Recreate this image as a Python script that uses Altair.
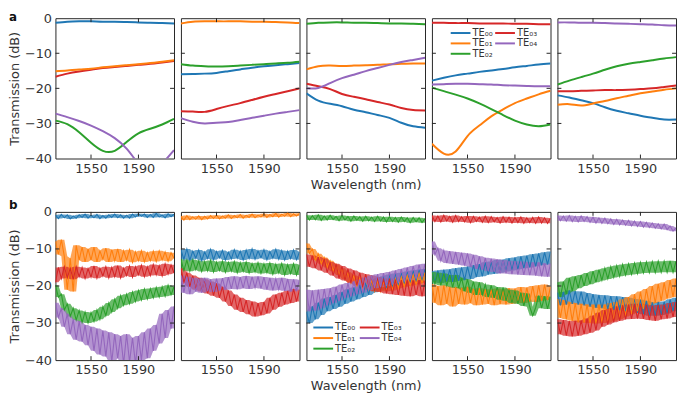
import altair as alt
import pandas as pd

# ---------------- categories / styling lists ----------------
MODES = ["TE00", "TE01", "TE02", "TE03", "TE04"]
MODE_LABELS = ["TE₀₀", "TE₀₁", "TE₀₂", "TE₀₃", "TE₀₄"]
COLORS = ["#1f77b4", "#ff7f0e", "#2ca02c", "#d62728", "#9467bd"]
X_TICKS = [1550, 1590]
Y_TICKS = [0, -10, -20, -30, -40]

# wavelength samples (nm)
WL_SIM = [1520, 1530, 1540, 1550, 1560, 1570, 1580, 1590, 1600, 1610, 1620]
WL_MEAS = [1520 + 2.5 * i for i in range(41)]

# ---------------- (a) simulated transmission, dB ----------------
A1_TE00 = [-1.3, -1.0, -0.9, -0.9, -1.0, -1.0, -1.1, -1.2, -1.3, -1.4, -1.5]
A1_TE01 = [-15.1, -14.9, -14.6, -14.4, -14.0, -13.7, -13.4, -13.1, -12.8, -12.4, -12.0]
A1_TE02 = [-29.2, -30.2, -32.5, -35.5, -37.8, -37.8, -35.3, -32.8, -31.5, -30.3, -28.7]
A1_TE03 = [-16.7, -15.8, -15.2, -14.7, -14.2, -13.9, -13.6, -13.3, -13.0, -12.6, -12.2]
A1_TE04 = [-27.2, -28.2, -29.3, -30.6, -32.2, -34.2, -37.2, -41.5, -44.0, -41.5, -37.6]

A2_TE00 = [-16.0, -15.9, -15.8, -15.6, -15.1, -14.6, -14.1, -13.7, -13.4, -13.1, -12.8]
A2_TE01 = [-1.5, -1.0, -0.9, -0.9, -0.9, -0.9, -1.0, -1.0, -1.1, -1.2, -1.4]
A2_TE02 = [-13.1, -13.5, -13.7, -13.8, -13.7, -13.5, -13.3, -13.1, -12.9, -12.7, -12.4]
A2_TE03 = [-26.5, -26.6, -26.7, -25.9, -25.0, -24.2, -23.3, -22.4, -21.6, -20.8, -20.0]
A2_TE04 = [-28.5, -29.5, -30.0, -29.8, -29.6, -29.0, -28.4, -27.8, -27.2, -26.7, -26.2]

A3_TE00 = [-21.4, -23.5, -24.4, -25.1, -26.1, -26.8, -27.6, -28.4, -29.8, -30.8, -31.2]
A3_TE01 = [-14.6, -13.7, -13.5, -13.6, -13.5, -13.4, -13.3, -13.1, -13.0, -12.9, -12.9]
A3_TE02 = [-1.6, -1.3, -1.2, -1.2, -1.3, -1.3, -1.4, -1.5, -1.5, -1.6, -1.7]
A3_TE03 = [-18.7, -19.4, -20.2, -21.6, -22.4, -23.1, -23.9, -24.6, -25.6, -26.2, -26.3]
A3_TE04 = [-20.0, -19.9, -18.5, -17.1, -16.1, -15.1, -14.2, -13.3, -12.5, -11.9, -11.3]

A4_TE00 = [-17.8, -17.0, -16.3, -15.8, -15.3, -14.9, -14.5, -14.0, -13.6, -13.2, -12.9]
A4_TE01 = [-35.8, -38.6, -38.0, -33.6, -30.6, -28.0, -26.0, -24.2, -22.9, -21.7, -20.7]
A4_TE02 = [-19.8, -20.8, -21.8, -22.9, -24.3, -25.9, -27.6, -29.2, -30.3, -30.8, -30.3]
A4_TE03 = [-1.3, -1.3, -1.4, -1.4, -1.5, -1.5, -1.5, -1.6, -1.6, -1.7, -1.7]
A4_TE04 = [-18.9, -18.8, -18.7, -18.7, -18.8, -18.9, -19.1, -19.2, -19.3, -19.4, -19.4]

A5_TE00 = [-22.0, -22.6, -23.4, -24.2, -25.4, -26.4, -27.1, -27.8, -28.4, -28.9, -28.9]
A5_TE01 = [-24.7, -24.5, -24.9, -24.3, -23.6, -22.8, -22.1, -21.4, -20.9, -20.4, -20.0]
A5_TE02 = [-18.9, -17.8, -16.8, -15.8, -14.7, -13.7, -13.0, -12.5, -12.0, -11.5, -11.1]
A5_TE03 = [-20.8, -20.8, -20.7, -20.6, -20.5, -20.5, -20.4, -20.2, -20.0, -19.6, -19.2]
A5_TE04 = [-1.2, -1.2, -1.3, -1.3, -1.4, -1.5, -1.6, -1.7, -1.8, -2.0, -2.1]

# ---------------- (b) measured transmission, dB ----------------
B1_TE00 = [-0.9, -1.8, -0.7, -1.6, -0.8, -1.9, -1.1, -1.7, -0.8, -1.5, -0.6, -1.7, -0.9, -1.6, -0.7, -1.8, -1.0, -1.7, -0.8, -1.5, -0.6, -1.6, -0.8, -1.7, -0.9, -1.7, -0.6, -1.4, -0.5, -1.2, -0.6, -1.5, -0.7, -1.5, -0.4, -1.4, -0.8, -1.6, -0.5, -1.3, -0.6]
B1_TE01 = [-8.0, -11.5, -7.5, -12.0, -21.0, -12.5, -21.5, -9.0, -13.0, -9.5, -13.5, -10.0, -13.0, -9.5, -13.5, -10.5, -12.8, -9.8, -13.5, -10.2, -13.2, -10.0, -13.5, -10.5, -13.0, -10.2, -13.6, -10.8, -13.2, -10.5, -13.5, -11.0, -13.2, -10.6, -13.4, -10.5, -13.0, -10.8, -13.3, -11.0, -12.5]
B1_TE02 = [-19.8, -23.0, -22.2, -26.5, -24.8, -28.2, -26.0, -29.2, -26.6, -29.8, -27.0, -30.0, -27.2, -29.6, -26.5, -29.0, -25.6, -28.0, -24.6, -27.0, -23.6, -26.0, -22.6, -25.2, -22.2, -24.8, -21.6, -24.2, -21.2, -23.8, -20.8, -23.5, -20.7, -23.2, -20.4, -23.0, -20.2, -22.8, -19.8, -22.4, -20.2]
B1_TE03 = [-19.0, -15.0, -18.0, -14.8, -17.8, -15.2, -18.2, -14.8, -17.5, -15.0, -18.0, -15.3, -17.6, -14.6, -17.9, -15.2, -17.3, -14.8, -17.8, -15.0, -17.5, -14.5, -17.8, -15.2, -17.2, -14.6, -17.6, -14.8, -17.0, -14.4, -17.5, -14.8, -17.2, -14.2, -17.0, -14.5, -17.3, -14.0, -16.8, -14.3, -16.5]
B1_TE04 = [-24.5, -28.5, -26.0, -31.0, -27.5, -33.0, -29.0, -34.5, -29.5, -35.0, -30.5, -36.0, -31.0, -37.5, -31.5, -38.5, -32.0, -39.0, -32.5, -40.5, -33.0, -39.5, -33.5, -41.0, -33.0, -40.5, -34.0, -41.0, -33.5, -40.0, -32.5, -39.5, -31.5, -37.5, -30.5, -35.5, -27.5, -34.0, -26.5, -31.5, -25.5]

B2_TE00 = [-10.2, -12.8, -10.0, -13.0, -10.6, -12.5, -10.3, -13.1, -10.8, -12.6, -10.1, -12.9, -10.7, -12.4, -10.4, -13.0, -10.9, -12.7, -10.2, -12.5, -10.6, -13.0, -10.3, -12.6, -10.0, -12.8, -10.5, -12.4, -10.2, -12.9, -10.7, -12.5, -10.1, -12.8, -10.4, -13.0, -10.6, -12.6, -10.3, -12.9, -10.8]
B2_TE01 = [-1.2, -2.2, -1.0, -2.1, -1.3, -2.0, -1.1, -2.1, -1.2, -1.9, -1.0, -1.8, -0.9, -1.9, -1.1, -1.7, -0.8, -1.8, -1.0, -1.6, -0.7, -1.7, -0.9, -1.5, -0.6, -1.6, -0.8, -1.4, -0.5, -1.5, -0.7, -1.3, -0.4, -1.4, -0.6, -1.2, -0.3, -1.3, -0.5, -1.1, -0.4]
B2_TE02 = [-12.8, -15.8, -13.0, -16.0, -12.9, -15.6, -13.2, -16.1, -13.4, -15.9, -13.1, -16.2, -13.5, -15.8, -13.3, -16.3, -13.6, -16.0, -13.4, -16.4, -13.7, -16.1, -13.5, -16.5, -13.9, -16.2, -13.7, -16.6, -14.0, -16.4, -13.8, -16.8, -14.1, -16.5, -13.9, -17.0, -14.2, -16.7, -14.0, -17.0, -14.3]
B2_TE03 = [-15.2, -19.0, -16.4, -20.2, -17.2, -21.0, -17.8, -21.5, -18.2, -22.0, -18.8, -22.6, -19.3, -23.2, -20.2, -24.2, -21.2, -25.4, -22.3, -26.4, -23.2, -27.0, -23.8, -27.6, -24.2, -28.2, -24.6, -27.9, -24.3, -27.4, -23.2, -26.4, -22.3, -25.6, -21.8, -25.0, -21.3, -24.6, -20.8, -24.2, -21.0]
B2_TE04 = [-17.2, -21.8, -17.5, -22.2, -17.8, -21.5, -18.0, -21.8, -17.8, -21.4, -18.2, -21.6, -18.0, -21.2, -17.9, -21.0, -17.6, -20.8, -17.4, -20.9, -17.6, -20.6, -17.3, -20.8, -17.5, -20.5, -17.4, -20.7, -17.6, -21.0, -17.8, -21.2, -18.0, -21.0, -17.8, -21.3, -18.1, -21.5, -18.2, -21.2, -18.4]

B3_TE00 = [-27.0, -30.0, -25.5, -29.0, -24.5, -27.8, -23.4, -26.8, -23.0, -26.2, -22.4, -25.6, -21.6, -24.8, -20.9, -24.2, -20.4, -23.6, -19.7, -23.0, -19.1, -22.4, -18.3, -21.7, -17.9, -21.2, -17.4, -20.6, -16.9, -20.1, -16.6, -19.8, -16.4, -19.4, -16.1, -19.1, -15.8, -18.9, -15.6, -18.7, -15.4]
B3_TE01 = [-8.5, -11.2, -10.0, -13.0, -11.3, -14.0, -12.3, -15.0, -13.2, -16.0, -14.2, -17.0, -15.2, -18.2, -16.3, -19.2, -17.2, -20.0, -17.8, -20.6, -18.2, -21.0, -18.5, -21.4, -18.6, -21.5, -18.7, -21.4, -18.5, -21.2, -18.1, -20.6, -17.6, -20.2, -17.2, -19.9, -17.0, -19.6, -16.6, -19.2, -16.4]
B3_TE02 = [-0.9, -2.2, -1.0, -2.1, -0.8, -2.3, -1.1, -2.2, -0.9, -2.1, -1.2, -2.4, -1.0, -2.2, -1.2, -2.5, -1.1, -2.3, -1.3, -2.5, -1.2, -2.4, -1.4, -2.6, -1.2, -2.5, -1.4, -2.7, -1.3, -2.6, -1.5, -2.8, -1.4, -2.6, -1.6, -2.9, -1.5, -2.7, -1.6, -2.9, -1.8]
B3_TE03 = [-11.5, -14.8, -11.8, -15.2, -12.2, -15.8, -12.6, -16.4, -13.5, -17.2, -14.0, -18.0, -14.6, -18.5, -15.3, -19.2, -15.8, -19.8, -16.4, -20.4, -16.8, -21.0, -17.2, -21.4, -17.6, -21.6, -18.0, -22.0, -18.0, -22.2, -18.3, -22.4, -18.4, -22.6, -18.3, -22.8, -18.5, -22.4, -18.4, -22.8, -18.6]
B3_TE04 = [-21.0, -26.8, -21.2, -26.6, -21.0, -26.0, -20.8, -25.2, -20.6, -24.6, -20.2, -24.0, -19.6, -23.2, -19.2, -22.8, -18.8, -22.2, -18.3, -21.8, -17.7, -21.2, -17.2, -20.6, -16.8, -20.3, -16.5, -20.0, -16.2, -19.6, -15.8, -19.2, -15.4, -18.8, -15.0, -18.4, -14.6, -18.0, -14.2, -17.6, -14.0]

B4_TE00 = [-16.0, -19.0, -15.8, -19.2, -15.6, -18.8, -15.5, -18.9, -15.2, -18.6, -15.0, -18.4, -14.8, -18.1, -14.4, -17.6, -14.1, -17.4, -13.6, -16.9, -13.4, -16.7, -13.0, -16.4, -12.9, -16.1, -12.5, -15.8, -12.3, -15.5, -12.0, -15.2, -11.8, -15.0, -11.4, -14.7, -11.2, -14.4, -10.9, -14.2, -10.7]
B4_TE01 = [-19.5, -24.5, -20.0, -25.2, -19.8, -24.8, -20.2, -25.5, -20.3, -24.8, -20.5, -25.0, -20.2, -24.6, -20.8, -25.2, -20.6, -25.0, -20.9, -24.8, -21.0, -25.2, -20.7, -24.9, -21.0, -25.0, -20.6, -24.8, -20.7, -24.5, -20.3, -24.6, -20.4, -24.2, -20.0, -24.3, -19.8, -24.0, -19.6, -23.8, -20.2]
B4_TE02 = [-16.2, -19.4, -16.4, -19.8, -16.6, -19.9, -17.0, -20.4, -17.0, -20.6, -17.8, -21.4, -18.2, -21.8, -18.8, -22.4, -19.0, -22.4, -19.6, -23.0, -19.8, -23.2, -20.3, -23.7, -20.4, -24.0, -21.0, -24.6, -21.2, -24.8, -21.8, -25.4, -22.0, -25.6, -28.0, -25.8, -22.6, -26.0, -22.8, -26.2, -22.9]
B4_TE03 = [-1.0, -2.6, -1.1, -2.7, -0.9, -2.5, -1.2, -2.8, -1.0, -2.6, -1.3, -2.7, -1.1, -2.9, -1.2, -2.6, -1.4, -2.8, -1.2, -2.9, -1.3, -2.7, -1.5, -3.0, -1.3, -2.8, -1.4, -3.0, -1.5, -2.9, -1.4, -3.1, -1.6, -2.9, -1.5, -3.1, -1.4, -3.0, -1.6, -3.1, -1.7]
B4_TE04 = [-8.0, -11.5, -9.8, -13.2, -10.4, -13.8, -10.6, -14.0, -10.8, -14.2, -11.0, -14.5, -11.2, -14.8, -11.6, -15.4, -12.0, -15.6, -12.4, -16.0, -12.6, -16.2, -12.8, -16.6, -13.0, -16.6, -13.2, -16.8, -13.3, -16.9, -13.4, -17.0, -13.5, -17.1, -13.6, -17.2, -13.6, -17.4, -13.9, -17.5, -14.0]

B5_TE00 = [-21.8, -25.2, -21.6, -25.0, -21.2, -24.8, -21.4, -25.0, -21.5, -25.2, -21.9, -25.6, -22.2, -25.9, -22.4, -26.0, -22.5, -26.2, -22.7, -26.4, -22.8, -26.5, -23.0, -26.8, -23.2, -27.0, -23.5, -27.2, -23.7, -27.6, -24.0, -28.0, -24.4, -28.0, -24.3, -27.8, -24.2, -27.4, -23.6, -26.8, -23.2]
B5_TE01 = [-23.5, -28.6, -23.8, -29.0, -24.3, -29.4, -24.6, -29.8, -24.8, -29.9, -25.0, -30.0, -25.0, -30.1, -25.0, -30.0, -25.0, -29.9, -24.6, -29.4, -24.3, -28.9, -23.6, -28.2, -23.0, -27.6, -22.2, -26.8, -21.5, -26.2, -20.8, -25.2, -20.0, -24.6, -19.4, -24.0, -19.0, -23.4, -18.4, -23.0, -18.0]
B5_TE02 = [-19.0, -23.0, -18.8, -22.2, -17.8, -21.4, -17.4, -20.6, -17.0, -20.0, -16.5, -19.5, -16.0, -19.0, -15.6, -18.5, -15.2, -18.1, -14.8, -17.7, -14.5, -17.4, -14.2, -17.1, -14.0, -16.9, -13.8, -16.7, -13.6, -16.5, -13.5, -16.4, -13.4, -16.4, -13.3, -16.3, -13.3, -16.3, -13.2, -16.3, -13.3]
B5_TE03 = [-29.0, -33.0, -29.2, -33.4, -29.5, -33.6, -29.4, -33.4, -29.3, -33.0, -28.8, -32.6, -28.0, -32.0, -27.2, -31.0, -26.5, -30.4, -26.0, -29.8, -25.5, -29.4, -25.2, -29.0, -25.0, -28.9, -24.8, -28.8, -24.8, -28.9, -25.0, -29.2, -25.3, -29.4, -25.1, -29.0, -25.0, -28.8, -24.6, -28.4, -24.3]
B5_TE04 = [-1.0, -2.4, -1.1, -2.5, -1.0, -2.6, -1.2, -2.7, -1.1, -2.6, -1.3, -2.8, -1.4, -3.0, -1.6, -3.1, -1.7, -3.2, -1.9, -3.4, -2.0, -3.5, -2.2, -3.6, -2.3, -3.8, -2.5, -3.9, -2.6, -4.1, -2.8, -4.2, -3.0, -4.4, -3.2, -4.6, -3.3, -4.8, -3.8, -5.2, -4.3]

SIM = {
    1: [A1_TE00, A1_TE01, A1_TE02, A1_TE03, A1_TE04],
    2: [A2_TE00, A2_TE01, A2_TE02, A2_TE03, A2_TE04],
    3: [A3_TE00, A3_TE01, A3_TE02, A3_TE03, A3_TE04],
    4: [A4_TE00, A4_TE01, A4_TE02, A4_TE03, A4_TE04],
    5: [A5_TE00, A5_TE01, A5_TE02, A5_TE03, A5_TE04],
}
MEAS = {
    1: [B1_TE00, B1_TE01, B1_TE02, B1_TE03, B1_TE04],
    2: [B2_TE00, B2_TE01, B2_TE02, B2_TE03, B2_TE04],
    3: [B3_TE00, B3_TE01, B3_TE02, B3_TE03, B3_TE04],
    4: [B4_TE00, B4_TE01, B4_TE02, B4_TE03, B4_TE04],
    5: [B5_TE00, B5_TE01, B5_TE02, B5_TE03, B5_TE04],
}
# in panel a1 the TE01 curve is drawn over TE03
SIM_DRAW_ORDER = {1: ["TE03", "TE00", "TE01", "TE02", "TE04"]}


def long_table(series_map, wl, draw_order=None):
    draw_order = draw_order or {}
    rows = []
    for p, lists in series_map.items():
        by_mode = dict(zip(MODES, lists))
        for mode in draw_order.get(p, MODES):
            for w, v in zip(wl, by_mode[mode]):
                rows.append({"panel": p, "mode": mode, "wl": w, "T": v})
    return pd.DataFrame(rows)


DF_SIM = long_table(SIM, WL_SIM, SIM_DRAW_ORDER)
DF_MEAS = long_table(MEAS, WL_MEAS)

# ---------------- layout / style ----------------
W = 120
FRAME = "#262626"
TXT = "#333333"
FONT = "DejaVu Sans"

XS = alt.Scale(domain=[1520, 1620], nice=False, zero=False)
YS = alt.Scale(domain=[-40, 0], nice=False, zero=False)
CS = alt.Scale(domain=MODES, range=COLORS)


def legend_layers(x0, y0, dx, dy):
    layers = []
    for i, (lab, col) in enumerate(zip(MODE_LABELS, COLORS)):
        c, r = i // 3, i % 3
        lx = x0 + c * dx
        ly = y0 + r * dy
        one = alt.Chart(pd.DataFrame({"k": [0]}))
        layers.append(one.mark_rule(color=col, strokeWidth=2).encode(
            x=alt.value(lx), x2=alt.value(lx + 20), y=alt.value(ly)))
        layers.append(one.mark_text(text=lab, align="left", baseline="middle",
                                    font=FONT, fontSize=10, color=TXT).encode(
            x=alt.value(lx + 22), y=alt.value(ly)))
    return layers


def panel(df, p, sw, H, letter=None, legend=None, interp="linear", band=False):
    data = df[df["panel"] == p]
    if p == 3:
        xaxis = alt.Axis(values=X_TICKS, format="d", title="Wavelength (nm)")
    else:
        xaxis = alt.Axis(values=X_TICKS, format="d", title=None)
    if p == 1:
        yaxis = alt.Axis(values=Y_TICKS, format="d", title="Transmission (dB)")
    else:
        yaxis = None
    xenc = alt.X("wl:Q", scale=XS, axis=xaxis)
    yenc = alt.Y("T:Q", scale=YS, axis=yaxis)
    cenc = alt.Color("mode:N", scale=CS, legend=None)
    layers = []
    if band:
        # envelope of the measured noise, computed by Vega from the same series
        layers.append(
            alt.Chart(data).transform_window(
                hi="max(T)", lo="min(T)", frame=[-1, 1],
                groupby=["mode"], sort=[alt.SortField("wl")],
            ).mark_area(clip=True, opacity=0.7).encode(
                x=xenc,
                y=alt.Y("hi:Q", scale=YS, axis=yaxis, stack=None),
                y2="lo:Q",
                color=cenc,
            )
        )
    layers.append(
        alt.Chart(data).mark_line(clip=True, strokeWidth=sw, interpolate=interp).encode(
            x=xenc, y=yenc, color=cenc,
        )
    )
    ytk = alt.Chart(pd.DataFrame({"T": Y_TICKS[1:4]}))
    xtk = alt.Chart(pd.DataFrame({"wl": X_TICKS}))
    layers += [
        ytk.mark_rule(color=FRAME).encode(y=yenc, x=alt.value(0), x2=alt.value(4)),
        ytk.mark_rule(color=FRAME).encode(y=yenc, x=alt.value(W - 4), x2=alt.value(W)),
        xtk.mark_rule(color=FRAME).encode(x=xenc, y=alt.value(0), y2=alt.value(4)),
        xtk.mark_rule(color=FRAME).encode(x=xenc, y=alt.value(H - 4), y2=alt.value(H)),
    ]
    if legend is not None:
        layers += legend_layers(*legend)
    if letter is not None:
        txt, ly = letter
        layers.append(alt.Chart(pd.DataFrame({"t": [txt]})).mark_text(
            align="left", baseline="top", font=FONT, fontSize=12,
            fontWeight="bold", color="#111").encode(
            text="t:N", x=alt.value(-47), y=alt.value(ly)))
    return alt.layer(*layers).properties(width=W, height=H)


top_row = alt.hconcat(
    *[panel(DF_SIM, p, 2.0, 142, interp="natural",
            letter=("a", -6) if p == 1 else None,
            legend=(19, 15, 45, 10.5) if p == 4 else None)
      for p in range(1, 6)],
    spacing=5,
)
bottom_row = alt.hconcat(
    *[panel(DF_MEAS, p, 1.1, 150, band=True,
            letter=("b", -12) if p == 1 else None,
            legend=(7, 117, 47, 10.7) if p == 3 else None)
      for p in range(1, 6)],
    spacing=5,
)

chart = alt.vconcat(top_row, bottom_row, spacing=6).properties(
    padding=0
).configure_view(
    stroke=FRAME, strokeWidth=1
).configure_axis(
    domain=False, ticks=False, grid=False,
    labelFont=FONT, labelFontSize=13, labelColor=TXT,
    titleFont=FONT, titleFontSize=13, titleFontWeight="normal", titleColor=TXT,
).configure_axisX(
    labelPadding=4, titlePadding=3
).configure_axisY(
    labelPadding=4, titlePadding=3
)

chart.save("out.html", embed_options={"renderer": "svg", "actions": False})
